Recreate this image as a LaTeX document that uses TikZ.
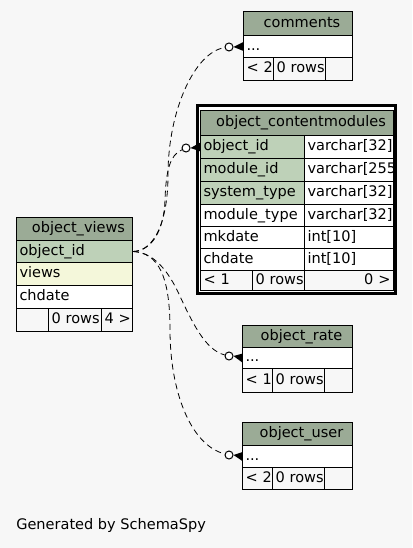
\documentclass[tikz,border=0pt]{standalone}
\usepackage{fontspec}
\setmainfont{DejaVu Sans}
\definecolor{bgc}{HTML}{F7F7F7}
\definecolor{hdrc}{HTML}{9BAB96}
\definecolor{keyc}{HTML}{BED1B8}
\definecolor{valc}{HTML}{F4F7DA}
\begin{document}
\begin{tikzpicture}[x=0.75pt,y=-0.75pt]
	\tikzstyle{every node}+=[font=\fontsize{10.9pt}{13pt}\selectfont]
	\tikzstyle{cell}=[draw=black, line width=0.75pt, anchor=north west, inner xsep=2.25pt, inner ysep=0pt, text height=8pt, text depth=2.6pt, fill=white, align=left]
	\tikzstyle{head}=[cell, fill=hdrc, align=center]
	\tikzstyle{foot}=[cell, fill=bgc]
	\tikzstyle{odot}=[circle, draw=black, fill=white, line width=0.75pt, inner sep=0pt, minimum size=6pt]
	\tikzstyle{fk}=[draw=black, line width=0.6pt, dash pattern=on 4.5pt off 3pt]
	\fill [bgc] (0,0) rectangle (412,548);
	\useasboundingbox (0,0) rectangle (412,548);
	\node [head, text width=77.25pt, minimum height=18pt] (cm_head) at (243,11) {\hspace*{6pt}comments};
	\node [cell, text width=77.25pt, minimum height=16.5pt] (cm_dots) at (243,35) {...};
	\node [foot, text width=18pt, minimum height=17.25pt] (cm_f1) at (243,57) {<~2};
	\node [foot, text width=34.5pt, minimum height=17.25pt] (cm_f2) at (273,57) {0~rows};
	\node [foot, text width=15.75pt, minimum height=17.25pt] (cm_f3) at (325,57) {};
	\fill [white] (197,105.5) rectangle (395.5,293);
	\begin{scope}
	\clip (199,108) rectangle (394.5,291.5);
	\node [head, text width=140.25pt, minimum height=18.75pt] (co_head) at (200,110) {\hspace*{6pt}object\_contentmodules};
	\node [cell, fill=keyc, text width=73.5pt, minimum height=17.25pt] (co_id) at (200,135) {object\_id};
	\node [cell, text width=62.25pt, minimum height=17.25pt] (co_id_t) at (304,135) {varchar[32]};
	\node [cell, fill=keyc, text width=73.5pt, minimum height=17.25pt] (co_mod) at (200,158) {module\_id};
	\node [cell, text width=62.25pt, minimum height=17.25pt] (co_mod_t) at (304,158) {varchar[255]};
	\node [cell, fill=keyc, text width=73.5pt, minimum height=17.25pt] (co_sys) at (200,181) {system\_type};
	\node [cell, text width=62.25pt, minimum height=17.25pt] (co_sys_t) at (304,181) {varchar[32]};
	\node [cell, text width=73.5pt, minimum height=16.5pt] (co_mt) at (200,204) {module\_type};
	\node [cell, text width=62.25pt, minimum height=16.5pt] (co_mt_t) at (304,204) {varchar[32]};
	\node [cell, text width=73.5pt, minimum height=16.5pt] (co_mk) at (200,226) {mkdate};
	\node [cell, text width=62.25pt, minimum height=16.5pt] (co_mk_t) at (304,226) {int[10]};
	\node [cell, text width=73.5pt, minimum height=16.5pt] (co_ch) at (200,248) {chdate};
	\node [cell, text width=62.25pt, minimum height=16.5pt] (co_ch_t) at (304,248) {int[10]};
	\node [foot, text width=34.5pt, minimum height=15pt] (co_f1) at (200,270) {<~1};
	\node [foot, text width=34.5pt, minimum height=15pt] (co_f2) at (252,270) {0~rows};
	\node [foot, text width=62.25pt, minimum height=15pt, align=right] (co_f3) at (304,270) {0~>};
	\end{scope}
	\draw [black, line width=2.25pt] (197,105.5) rectangle (395.5,293);
	\node [head, text width=82.5pt, minimum height=17.25pt] (ov_head) at (16,217) {\hspace*{6pt}object\_views};
	\node [cell, fill=keyc, text width=82.5pt, minimum height=16.5pt] (ov_id) at (16,240) {object\_id};
	\node [cell, fill=valc, text width=82.5pt, minimum height=17.25pt] (ov_views) at (16,262) {views};
	\node [cell, text width=82.5pt, minimum height=17.25pt] (ov_ch) at (16,285) {chdate};
	\node [foot, text width=19.5pt, minimum height=17.25pt] (ov_f1) at (16,308) {};
	\node [foot, text width=35.25pt, minimum height=17.25pt] (ov_f2) at (48,308) {0~rows};
	\node [foot, text width=18.75pt, minimum height=17.25pt, align=right] (ov_f3) at (101,308) {4~>};
	\node [head, text width=78pt, minimum height=16.5pt] (ra_head) at (242,325) {\hspace*{6pt}object\_rate};
	\node [cell, text width=78pt, minimum height=15.75pt] (ra_dots) at (242,347) {...};
	\node [foot, text width=18pt, minimum height=18pt] (ra_f1) at (242,368) {<~1};
	\node [foot, text width=34.5pt, minimum height=18pt] (ra_f2) at (272,368) {0~rows};
	\node [foot, text width=16.5pt, minimum height=18pt] (ra_f3) at (324,368) {};
	\node [head, text width=78pt, minimum height=17.25pt] (us_head) at (242,422) {\hspace*{6pt}object\_user};
	\node [cell, text width=78pt, minimum height=16.5pt] (us_dots) at (242,445) {...};
	\node [foot, text width=18pt, minimum height=16.5pt] (us_f1) at (242,467) {<~2};
	\node [foot, text width=34.5pt, minimum height=16.5pt] (us_f2) at (272,467) {0~rows};
	\node [foot, text width=16.5pt, minimum height=16.5pt] (us_f3) at (324,467) {};
	\node [odot] (cm_o) at (229,47) {};
	\node [odot] (co_o) at (186,148) {};
	\node [odot] (ra_o) at (229,356) {};
	\node [odot] (us_o) at (229,455) {};
	\draw [fk] (ov_id.east) .. controls (155,251) and (168,220) .. (168,175) .. controls (168,110) and (195,52) .. (cm_o);
	\draw [fk] (ov_id.east) .. controls (152,251) and (164,230) .. (165,200) .. controls (166,170) and (170,155) .. (co_o);
	\draw [fk] (ov_id.east) .. controls (150,252) and (165,265) .. (178,292) .. controls (192,322) and (205,350) .. (ra_o);
	\draw [fk] (ov_id.east) .. controls (158,253) and (170,275) .. (170,330) .. controls (170,390) and (190,445) .. (us_o);
	\fill [black] (cm_o.east) -- ([yshift=3.2pt]cm_dots.west) -- ([yshift=-3.2pt]cm_dots.west) -- cycle;
	\fill [black] (co_o.east) -- ([yshift=3.2pt]co_id.west) -- ([yshift=-3.2pt]co_id.west) -- cycle;
	\fill [black] (ra_o.east) -- ([yshift=3.2pt]ra_dots.west) -- ([yshift=-3.2pt]ra_dots.west) -- cycle;
	\fill [black] (us_o.east) -- ([yshift=3.2pt]us_dots.west) -- ([yshift=-3.2pt]us_dots.west) -- cycle;
	\node [anchor=west, inner sep=0pt] (gen) at (16,525) {Generated by SchemaSpy};
\end{tikzpicture}
\end{document}
